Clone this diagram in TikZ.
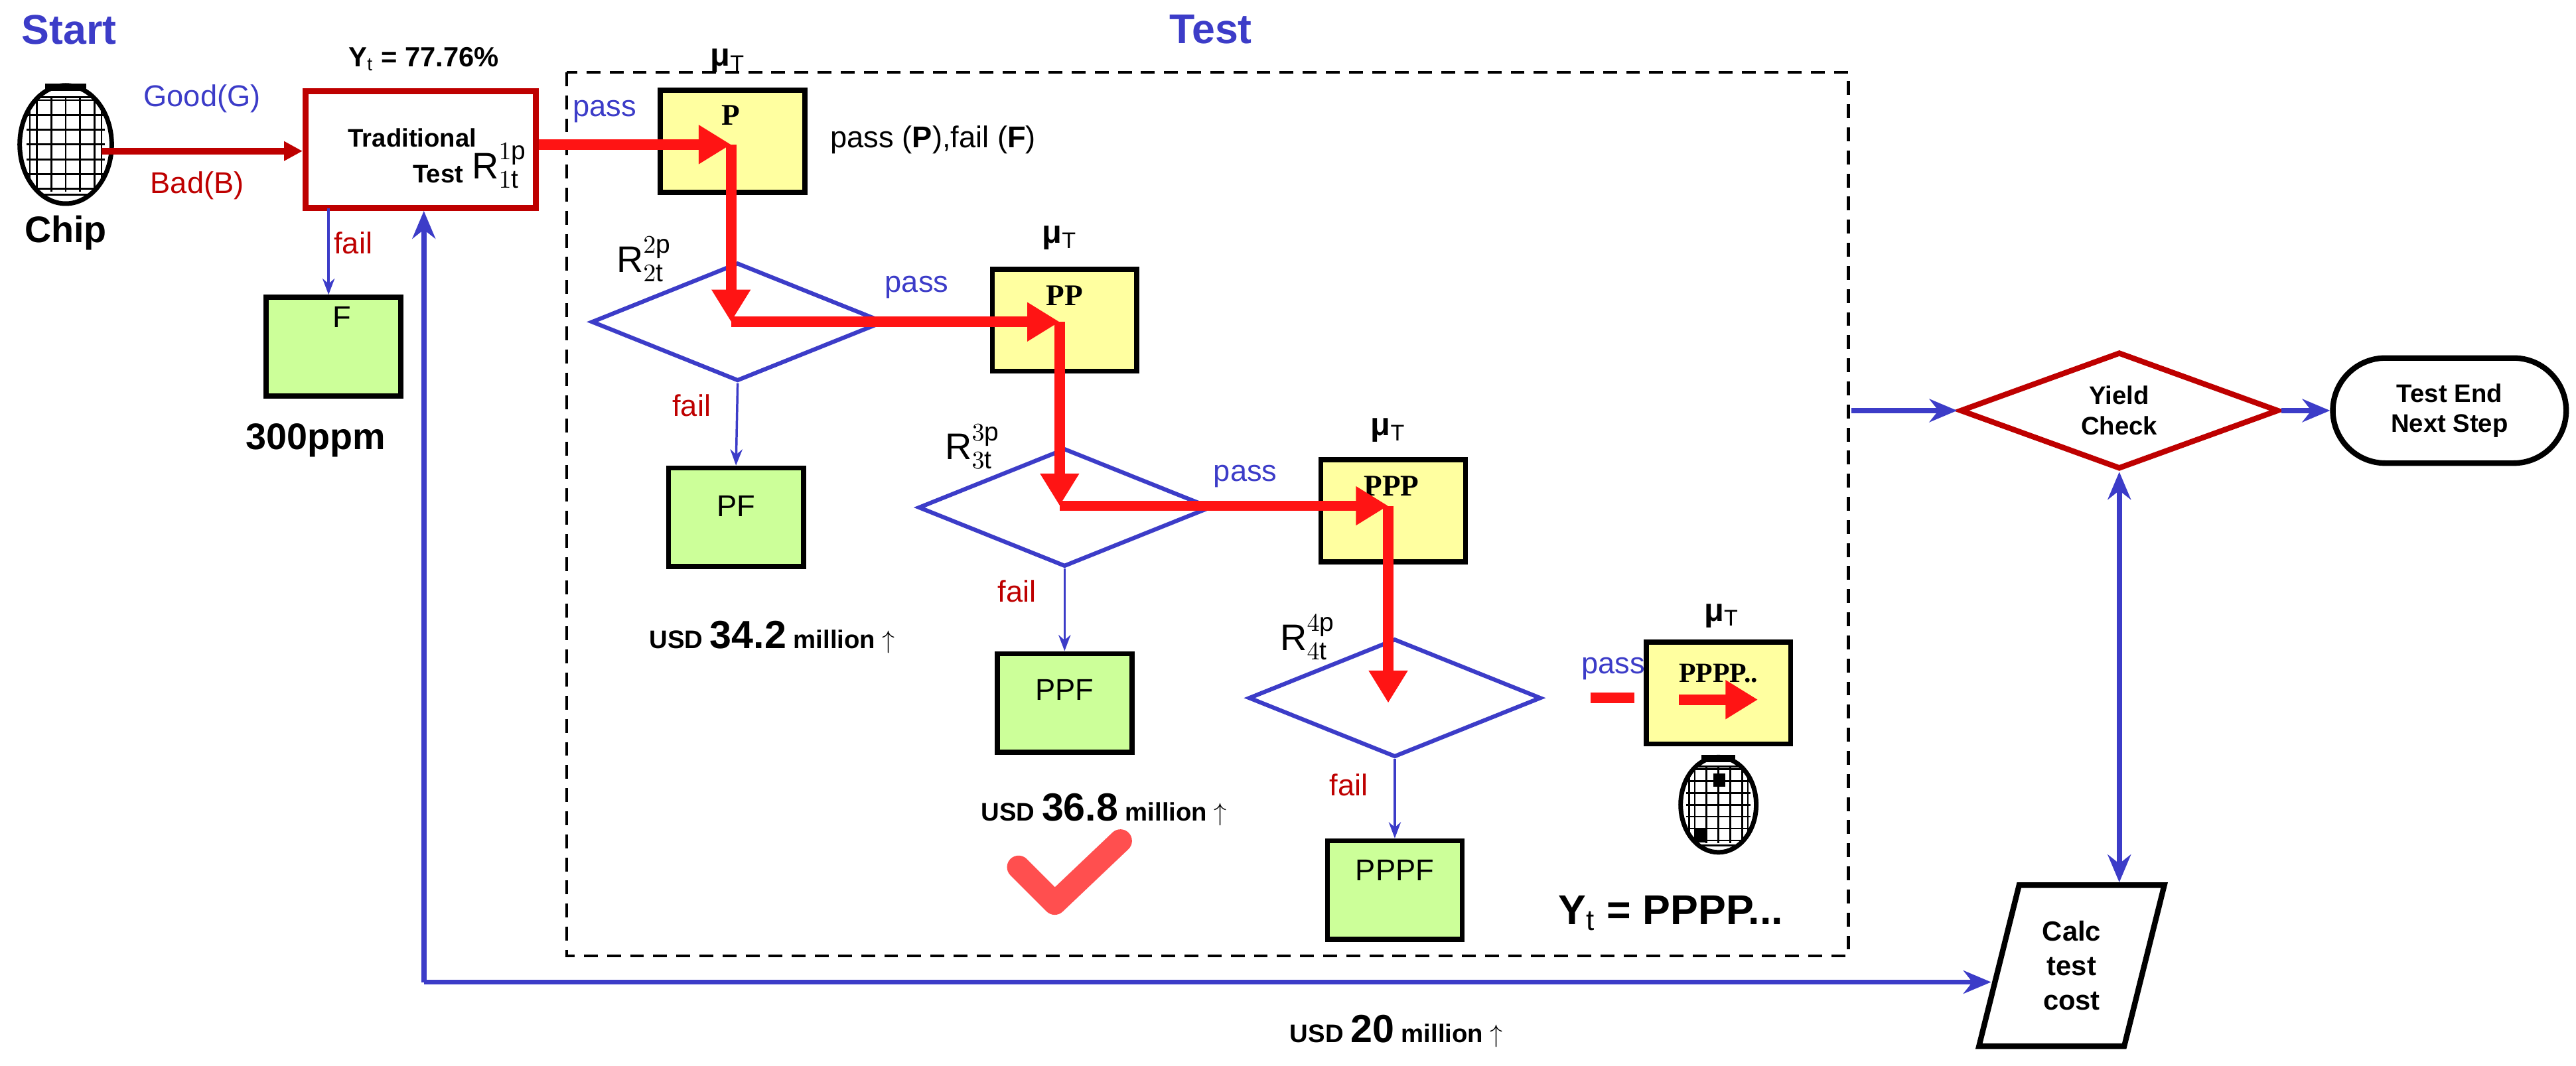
\documentclass[tikz,border=0pt]{standalone}
\usepackage{amsmath}
\usepackage{fontspec}
\setmainfont{Liberation Sans}
\newfontfamily\serifb{Liberation Serif}
\usetikzlibrary{shapes.geometric,arrows.meta}
\definecolor{bl}{RGB}{60,60,200}
\definecolor{dr}{RGB}{190,0,0}
\definecolor{rr}{RGB}{255,20,20}
\definecolor{yl}{RGB}{255,255,160}
\definecolor{gr}{RGB}{204,255,153}
\tikzset{
  ybox/.style={draw,line width=2.2pt,fill=yl,minimum width=2.2cm,minimum height=1.55cm,inner sep=0pt},
  gbox/.style={draw,line width=2.2pt,fill=gr,minimum width=2.05cm,minimum height=1.5cm,inner sep=0pt},
  dia/.style={diamond,draw=bl,line width=1.8pt,aspect=2.45,minimum width=4.45cm,minimum height=1.8cm,inner sep=0pt},
  red/.style={rr,line width=4.5pt,-{Triangle[length=14pt,width=16pt]}},
  failar/.style={bl,line width=1pt,-{Stealth[length=7pt]}},
  blar/.style={bl,line width=2.2pt},
  lbl/.style={font=\fontsize{13}{13}\selectfont},
  mu/.style={font=\bfseries\fontsize{14}{14}\selectfont},
}
\newcommand{\wafer}[3]{% center, rx, ry
  \begin{scope}[shift={#1}]
  \begin{scope}
  \clip (0,0) ellipse ({#2} and {#3});
  \foreach \i in {-2,...,2} \draw[line width=0.8pt] ({\i*#2/3.2},{-#3*0.8}) -- ({\i*#2/3.2},{#3*0.8});
  \foreach \j in {-3,...,3} \draw[line width=0.8pt] ({-#2*0.85},{\j*#3/4}) -- ({#2*0.85},{\j*#3/4});
  \draw[line width=0.8pt] ({-#2*0.78},{-#3*0.8}) rectangle ({#2*0.78},{#3*0.85});
  \end{scope}
  \draw[line width=2pt] (0,0) ellipse ({#2} and {#3});
  \draw[line width=3pt] ({-#2*0.45},{-#3*0.97}) -- ({#2*0.45},{-#3*0.97});
  \end{scope}}
\begin{document}
\begin{tikzpicture}[x=0.025cm,y=-0.025cm]
\useasboundingbox (0,0) rectangle (1568,649);
% start
\node[bl,font=\bfseries\fontsize{18}{18}\selectfont] (start) at (42,18) {Start};
\wafer{(40,88)}{28}{36}
\coordinate (chipR) at (62,92);
\node[font=\bfseries\fontsize{16}{16}\selectfont] (chip) at (40,142) {Chip};
\node[bl,lbl] (good) at (123,60) {Good(G)};
\node[dr,lbl] (bad) at (120,113) {Bad(B)};
% traditional
\node[draw=dr,line width=2.6pt,minimum width=3.5cm,minimum height=1.78cm,inner sep=0pt] (trad) at (256,91) {};
\node[font=\bfseries\fontsize{11}{11}\selectfont] (tradt) at (251,84) {Traditional};
\node[font=\bfseries\fontsize{11}{11}\selectfont,anchor=east] (tradt2) at (287,106) {Test};
\node[font=\fontsize{16}{16}\selectfont] (r1) at (304,101) {$\mathrm{R}^{1\mathrm{p}}_{1\mathrm{t}}$};
\node[font=\bfseries\fontsize{12}{12}\selectfont] (yt) at (258,36) {Y$_\mathrm{t}$ = 77.76\%};
\draw[dr,line width=3pt,-{Triangle[length=8pt,width=8pt]}] (chipR) -- (trad.west|-chipR);
\node[gbox] (F) at (203,211) {};
\node[font=\fontsize{13}{13}\selectfont] at (208,193) {F};
\draw[failar] (200,127) -- (F.north-|200,0);
\node[dr,lbl] at (215,148) {fail};
\node[font=\bfseries\fontsize{16}{16}\selectfont] (ppm) at (192,268) {300ppm};
% test frame
\draw[dashed,line width=1.3pt,dash pattern=on 6pt off 4pt] (345,44) rectangle (1125,582);
\node[bl,font=\bfseries\fontsize{18}{18}\selectfont] (test) at (737,18) {Test};
% P box
\node[ybox] (P) at (446,86) {};
\node[font=\serifb\bfseries\fontsize{13}{13}\selectfont] at (445,70) {P};
\node[mu] at (443,37) {μ$_\mathrm{T}$};
\node[bl,lbl] at (368,68) {pass};
\node[font=\fontsize{13}{13}\selectfont] at (568,85) {pass (\textbf{P}),fail (\textbf{F})};
% diamond 1
\node[dia] (D1) at (449,196) {};
\node[font=\fontsize{16}{16}\selectfont] at (392,158) {$\mathrm{R}^{2\mathrm{p}}_{2\mathrm{t}}$};
\node[bl,lbl] at (558,175) {pass};
\node[gbox] (PF) at (448,315) {};
\node[font=\fontsize{13}{13}\selectfont] at (448,308) {PF};
\draw[failar] (D1.south) -- (PF.north);
\node[dr,lbl] at (421,247) {fail};
\node[font=\bfseries\fontsize{11}{11}\selectfont] at (470,388) {USD {\fontsize{17}{17}\selectfont 34.2} million $\uparrow$};
% PP
\node[ybox] (PP) at (648,195) {};
\node[font=\serifb\bfseries\fontsize{13}{13}\selectfont] at (648,180) {PP};
\node[mu] at (645,145) {μ$_\mathrm{T}$};
\node[dia] (D2) at (648,309) {};
\node[font=\fontsize{16}{16}\selectfont] at (592,272) {$\mathrm{R}^{3\mathrm{p}}_{3\mathrm{t}}$};
\node[bl,lbl] at (758,290) {pass};
\node[gbox] (PPF) at (648,428) {};
\node[font=\fontsize{13}{13}\selectfont] at (648,420) {PPF};
\draw[failar] (D2.south) -- (PPF.north);
\node[dr,lbl] at (619,360) {fail};
\node[font=\bfseries\fontsize{11}{11}\selectfont] at (672,493) {USD {\fontsize{17}{17}\selectfont 36.8} million $\uparrow$};
\draw[rr!75,line width=10pt,line cap=round,line join=round] (620,528) -- (642,550) -- (682,512);
% PPP
\node[ybox] (PPP) at (848,311) {};
\node[font=\serifb\bfseries\fontsize{13}{13}\selectfont] at (847,296) {PPP};
\node[mu] at (845,262) {μ$_\mathrm{T}$};
\node[dia] (D3) at (849,425) {};
\node[font=\fontsize{16}{16}\selectfont] at (796,388) {$\mathrm{R}^{4\mathrm{p}}_{4\mathrm{t}}$};
\node[bl,lbl] at (982,407) {pass};
\node[gbox] (PPPF) at (849,542) {};
\node[font=\fontsize{13}{13}\selectfont] at (849,530) {PPPF};
\draw[failar] (D3.south) -- (PPPF.north);
\node[dr,lbl] at (821,478) {fail};
% PPPP
\node[ybox] (P4) at (1046,422) {};
\node[font=\serifb\bfseries\fontsize{12}{12}\selectfont] at (1046,410) {PPPP..};
\node[mu] at (1048,375) {μ$_\mathrm{T}$};
\draw[rr,line width=4.5pt] (968,425) -- (995,425);
\draw[red] (1022,426) -- (1070,426);
\wafer{(1046,490)}{23}{29}
\fill (1043,471) rectangle (1050,479);
\fill (1032,504) rectangle (1039,513);
\node[font=\bfseries\fontsize{18}{18}\selectfont] at (1017,556) {Y$_\mathrm{t}$ = PPPP...};
% red path
\draw[red] (trad.east|-0,88) -- (445,88);
\draw[red] (445,88) -- (445,196);
\draw[red] (445,196) -- (645,196);
\draw[red] (645,196) -- (645,308);
\draw[red] (645,308) -- (845,308);
\draw[red] (845,308) -- (845,428);
% right side
\node[diamond,draw=dr,line width=2.4pt,aspect=2.7,minimum width=4.85cm,minimum height=1.78cm,inner sep=0pt,align=center,font=\bfseries\fontsize{11}{13}\selectfont] (Y) at (1290,250) {Yield\\Check};
\coordinate (fr) at (1127,250);
\draw[blar,-{Stealth[length=12pt,width=10pt]}] (fr) -- (Y.west);
\node[draw,line width=2.4pt,rounded corners=0.8cm,minimum width=3.55cm,minimum height=1.6cm,align=center,font=\bfseries\fontsize{11}{13}\selectfont] (E) at (1491,250) {Test End\\Next Step};
\draw[blar,-{Stealth[length=12pt,width=10pt]}] (Y.east) -- (E.west);
\node[trapezium,trapezium left angle=76,trapezium right angle=104,draw,line width=2.4pt,minimum width=2.45cm,minimum height=2.45cm,inner sep=0pt,align=center,font=\bfseries\fontsize{12}{15}\selectfont] (C) at (1261,588) {Calc\\test\\cost};
\draw[blar,{Stealth[length=12pt,width=10pt]}-{Stealth[length=12pt,width=10pt]}] (Y.south) -- (C.north-|Y.south);
\coordinate (lb) at (258,598);
\draw[blar,-{Stealth[length=12pt,width=10pt]}] (lb) -- (1212,598);
\draw[blar,-{Stealth[length=12pt,width=10pt]}] (lb) -- (trad.south-|lb);
\node[font=\bfseries\fontsize{11}{11}\selectfont] at (850,628) {USD {\fontsize{17}{17}\selectfont 20} million $\uparrow$};
\end{tikzpicture}
\end{document}
